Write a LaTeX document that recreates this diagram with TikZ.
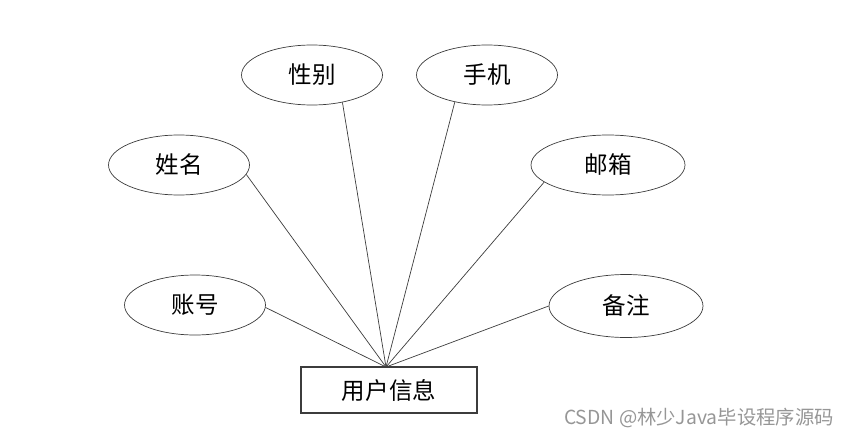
\documentclass[tikz,border=0pt]{standalone}
\usepackage{fontspec}
\usepackage{tikz}
\usetikzlibrary{shapes.geometric}
\newfontfamily\cjk{Noto Sans CJK SC}
\definecolor{mygray}{RGB}{60,60,60}
\definecolor{markgray}{RGB}{150,150,150}

\begin{document}
\begin{tikzpicture}[x=0.02cm, y=-0.02cm,
    attr/.style={ellipse, draw=mygray, thin, minimum width=2.82cm,
        minimum height=1.2cm, inner sep=0pt, font=\cjk\fontsize{13.4}{16}\selectfont},
    entity/.style={rectangle, draw=mygray, semithick, minimum width=3.52cm,
        minimum height=0.92cm, inner sep=0pt, font=\cjk\fontsize{13.4}{16}\selectfont},
    link/.style={draw=mygray, thin}
]
\useasboundingbox (0,0) rectangle (847,439);
\node[entity] (user) at (389,390) {用户信息};
\coordinate (hub) at (386,367);
\node[attr] (sex) at (312,75) {性别};
\node[attr] (phone) at (487,75) {手机};
\node[attr] (name) at (179,165) {姓名};
\node[attr, minimum width=3.08cm] (mail) at (608,165) {邮箱};
\node[attr] (acct) at (195,305) {账号};
\node[attr, minimum width=3.08cm, minimum height=1.26cm] (note) at (626,306) {备注};
\draw[link] (sex.-42) -- (hub); \draw[link] (phone.-140) -- (hub);
\draw[link] (name.-8) -- (hub); \draw[link] (mail.-165) -- (hub);
\draw[link] (acct.-2) -- (hub); \draw[link] (note.180) -- (hub);
\node[anchor=east, text=markgray, font=\cjk\fontsize{11}{13}\selectfont, inner sep=0pt] (mark) at (834,418)
    {CSDN @林少Java毕设程序源码};
\end{tikzpicture}
\end{document}
